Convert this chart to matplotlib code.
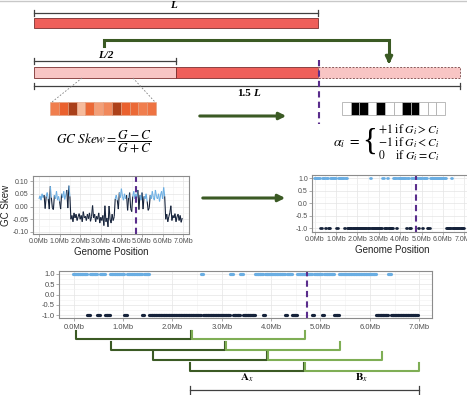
import numpy as np
import matplotlib.pyplot as plt
import matplotlib.transforms as mtransforms
from matplotlib.collections import LineCollection
from matplotlib.colors import LinearSegmentedColormap
from matplotlib.patches import Rectangle

plt.rcParams['mathtext.fontset'] = 'stix'
plt.rcParams['font.family'] = ['Liberation Sans', 'DejaVu Sans']

# GC skew per 50 kb window, 0.00 .. 6.95 Mb
skew = [0.030, 0.042, 0.025, 0.050, 0.035, 0.045, -0.008, 0.040, 0.055, 0.030,
        -0.010, 0.080, 0.035, -0.005, -0.012, 0.045, 0.030, 0.060, 0.025, 0.040,
        0.020, -0.010, 0.050, 0.035, 0.060, 0.028, 0.045, 0.065, -0.006, 0.082,
        0.040, -0.050, -0.035, -0.060, -0.025, -0.045, -0.030, -0.055, -0.040, -0.028,
        -0.050, -0.035, -0.060, -0.020, -0.045, -0.038, -0.055, -0.030, -0.048, -0.025,
        -0.058, -0.040, 0.004, -0.045, -0.030, -0.060, -0.038, -0.050, -0.025, -0.065,
        -0.042, -0.055, -0.035, -0.075, 0.003, -0.060, -0.045, -0.080, 0.002, -0.050,
        -0.065, -0.030, -0.055, -0.040, 0.030, 0.045, 0.025, -0.010, 0.055, 0.035,
        0.070, 0.040, 0.025, 0.050, 0.030, 0.045, -0.015, 0.035, 0.055, -0.008,
        -0.020, 0.040, 0.060, 0.030, 0.050, 0.035, 0.065, -0.012, 0.045, 0.025,
        0.055, -0.010, 0.040, 0.030, 0.050, 0.020, -0.015, -0.005, 0.045, 0.030,
        0.060, 0.035, 0.025, 0.065, 0.040, 0.030, 0.050, 0.020, 0.045, 0.060,
        0.030, 0.075, 0.040, -0.050, -0.030, -0.060, -0.040, -0.025, 0.003, -0.055,
        -0.035, -0.045, -0.028, -0.060, -0.040, -0.030, -0.055, -0.035, -0.062, -0.045]
step_mb = 0.05
pos_mb = np.arange(len(skew)) * step_mb
skew = np.array(skew)
alpha = np.sign(skew)

# window GC content (heat strip) and the matching sign strip
heat = [0.35, 0.62, 0.95, 0.08, 0.55, 0.2, 0.3, 0.93, 0.62, 0.55, 0.35, 0.45]
bits = [0, 1, 1, 0, 1, 0, 0, 1, 1, 0, 0, 0]

win_start = [0.05, 0.75, 1.6, 2.35]   # Mb, sliding windows
win_half = 2.32                        # Mb
origin_mb = 4.72

mb_ticks = np.arange(0, 8)
mb_labels = ['%.1fMb' % v for v in mb_ticks]

BLUE = '#6aaee3'
NAVY = '#15223a'
RED = '#ef5f5a'
PINK = '#f8c5c4'
DGREEN = '#3b5a24'
LGREEN = '#7fae55'
PURPLE = '#5a2d8c'

W, H = 467, 395
fig = plt.figure(figsize=(W / 100, H / 100), dpi=100)
ov = fig.add_axes([0, 0, 1, 1])
ov.set_xlim(0, W)
ov.set_ylim(H, 0)
ov.axis('off')


def panel(x0, y0, x1, y1):
    return fig.add_axes([x0 / W, 1 - y1 / H, (x1 - x0) / W, (y1 - y0) / H])


def gg(ax, yt, ylab, ymin, fs=5):
    for s in ax.spines.values():
        s.set_color('#8c8c8c')
        s.set_linewidth(0.8)
    ax.set_xticks(mb_ticks)
    ax.set_xticklabels(mb_labels)
    ax.set_xticks(mb_ticks[:-1] + 0.5, minor=True)
    ax.set_yticks(yt)
    ax.set_yticklabels(ylab)
    ax.set_yticks(np.array(yt[:-1]) + ymin, minor=True)
    ax.grid(which='major', color='#e4e4e4', lw=0.5)
    ax.grid(which='minor', color='#f2f2f2', lw=0.4)
    ax.set_axisbelow(True)
    ax.tick_params(length=2, width=0.5, color='#8c8c8c', labelsize=fs,
                   labelcolor='#4d4d4d', pad=1)
    ax.tick_params(which='minor', length=0)


def sign_points(ax, lw):
    # one short round-capped stroke per window, so runs merge into a band
    for val, col in ((1, BLUE), (-1, NAVY)):
        p = pos_mb[alpha == val]
        ax.hlines(np.full(len(p), val), p - step_mb / 2, p + step_mb / 2,
                  color=col, lw=lw, capstyle='round')


def bar_bracket(x0, x1, y):
    ov.plot([x0, x1], [y, y], color='#404040', lw=0.9)
    ov.plot([x0, x0], [y - 3, y + 3], color='#404040', lw=0.9)
    ov.plot([x1, x1], [y - 3, y + 3], color='#404040', lw=0.9)


# top gray border
ov.plot([0, W], [0.5, 0.5], color='#c8c8c8', lw=1)

# L bar
bar_bracket(34, 318, 13)
ov.text(173, 6, 'L', fontsize=8, family='Liberation Serif', weight='bold',
        style='italic', ha='center', va='center')
ov.add_patch(Rectangle((34, 18), 284, 10, fc=RED, ec='#7a3030', lw=0.6))

# green arrow over the top
ov.plot([104, 104, 389, 389], [46, 40, 40, 58], color=DGREEN, lw=2.2,
        solid_joinstyle='miter')
ov.annotate('', xy=(389, 67), xytext=(389, 56),
            arrowprops=dict(arrowstyle='-|>', color=DGREEN, lw=2.2,
                            mutation_scale=10))

# L/2 and extended bar
bar_bracket(34, 176, 61)
ov.text(106, 55, 'L/2', fontsize=8, family='Liberation Serif', weight='bold',
        style='italic', ha='center', va='center')
ov.add_patch(Rectangle((34, 67), 142, 11, fc=PINK, ec='#7a3030', lw=0.6))
ov.add_patch(Rectangle((176, 67), 142, 11, fc=RED, ec='#7a3030', lw=0.6))
ov.add_patch(Rectangle((318, 67), 142, 11, fc=PINK, ec='#8a5a5a', lw=0.7,
                       ls=(0, (2, 1.5))))
bar_bracket(34, 460, 86)
ov.text(251, 93, '1.5', fontsize=8, family='Liberation Serif', weight='bold',
        ha='right', va='center')
ov.text(253, 93, 'L', fontsize=8, family='Liberation Serif', weight='bold',
        style='italic', ha='left', va='center')
ov.plot([319, 319], [60, 124], color=PURPLE, lw=1.5, ls=(0, (3, 2)))

# zoom lines to heat strip
ov.plot([82, 52], [78, 102], color='#808080', lw=0.6, ls=(0, (2, 2)))
ov.plot([133, 155], [78, 102], color='#808080', lw=0.6, ls=(0, (2, 2)))

cmap = LinearSegmentedColormap.from_list('gc', ['#f8cdb4', '#f08050', '#e95c28', '#9e3a16'])
cw = (156 - 50) / len(heat)
for i, v in enumerate(heat):
    ov.add_patch(Rectangle((50 + i * cw, 102), cw, 13, fc=cmap(v),
                           ec='#e0a080', lw=0.4))

bw = (445 - 342) / len(bits)
for i, b in enumerate(bits):
    ov.add_patch(Rectangle((342 + i * bw, 102), bw, 13,
                           fc='black' if b else 'white', ec='#b0b0b0', lw=0.6))

# arrow between strips
ov.annotate('', xy=(289, 116), xytext=(197, 116),
            arrowprops=dict(arrowstyle='-|>', color=DGREEN, lw=2.2,
                            mutation_scale=10))

# formulas
ov.text(104, 141, r'$GC\ Skew = \dfrac{G-C}{G+C}$', fontsize=9.5,
        ha='center', va='center')
ov.text(347, 143, r'$\alpha_i\ =$', fontsize=10, ha='center', va='center')
ov.text(377, 142, '{', fontsize=22, family='Liberation Serif', ha='right',
        va='center')
ov.text(378, 130, r'$+1\ \mathrm{if}\ G_i > C_i$', fontsize=8.5, ha='left', va='center')
ov.text(378, 143, r'$-1\ \mathrm{if}\ G_i < C_i$', fontsize=8.5, ha='left', va='center')
ov.text(378, 156, r'$0\ \ \ \ \mathrm{if}\ G_i = C_i$', fontsize=8.5, ha='left', va='center')

# arrow between plots
ov.annotate('', xy=(288, 198), xytext=(200, 198),
            arrowprops=dict(arrowstyle='-|>', color=DGREEN, lw=2.2,
                            mutation_scale=10))

# left: GC skew line
a1 = panel(33, 176, 189, 234)
gg(a1, [-0.10, -0.05, 0.0, 0.05, 0.10], ['-0.10', '-0.05', '0.00', '0.05', '0.10'], 0.025)
pts = np.column_stack([pos_mb, skew])
segs = np.stack([pts[:-1], pts[1:]], axis=1)
cols = [BLUE if (skew[i] > 0 and skew[i + 1] > 0) else NAVY for i in range(len(skew) - 1)]
a1.add_collection(LineCollection(segs, colors=cols, lw=0.8))
a1.axvline(origin_mb, color=PURPLE, lw=1.5, ls=(0, (3, 2)))
a1.set_xlim(-0.29, 7.28)
a1.set_ylim(-0.108, 0.12)
a1.set_xlabel('Genome Position', fontsize=7, labelpad=1, color='#222222')
a1.set_ylabel('GC Skew', fontsize=7, labelpad=1, color='#222222')

# right: sign plot
sgn_y = ['-1.0', '-0.5', '0.0', '0.5', '1.0']
a2 = panel(312, 175, 472, 232)
gg(a2, [-1, -0.5, 0, 0.5, 1], sgn_y, 0.25)
sign_points(a2, 2.0)
a2.axvline(origin_mb, color=PURPLE, lw=1.5, ls=(0, (3, 2)))
a2.set_xlim(-0.12, 7.36)
a2.set_ylim(-1.15, 1.12)
a2.set_xlabel('Genome Position', fontsize=7, labelpad=1, color='#222222')

# bottom: sign plot, larger
a3 = panel(59, 271, 432, 318)
gg(a3, [-1, -0.5, 0, 0.5, 1], sgn_y, 0.25, fs=5.5)
sign_points(a3, 2.3)
a3.axvline(origin_mb, color=PURPLE, lw=1.5, ls=(0, (3, 2)))
a3.set_xlim(-0.30, 7.26)
a3.set_ylim(-1.13, 1.13)
a3.tick_params(axis='x', pad=2)

# window brackets under the bottom plot
bt = mtransforms.blended_transform_factory(a3.transData, ov.transData)
for k, s in enumerate(win_start):
    yb = 339 + k * 10.7
    yt = yb - 8
    m = s + win_half
    e = s + 2 * win_half
    ov.plot([s, s, m, m], [yt, yb, yb, yt], color=DGREEN, lw=1.5, transform=bt)
    ov.plot([m + 0.02, m + 0.02, e, e], [yt, yb, yb, yt], color=LGREEN, lw=1.5,
            transform=bt)
last = win_start[-1]
ov.text(last + win_half / 2, 378, r'$\mathbf{A}_x$', fontsize=8, ha='center',
        va='center', transform=bt)
ov.text(last + 1.5 * win_half, 378, r'$\mathbf{B}_x$', fontsize=8, ha='center',
        va='center', transform=bt)
ov.plot([last, last + 2 * win_half], [390, 390], color='#404040', lw=0.9, transform=bt)
ov.plot([last, last], [386, 394], color='#404040', lw=0.9, transform=bt)
ov.plot([last + 2 * win_half] * 2, [386, 394], color='#404040', lw=0.9, transform=bt)
ov.text(last + win_half, 400, 'L', fontsize=8, family='Liberation Serif',
        weight='bold', style='italic', ha='center', va='center', transform=bt)

fig.savefig('out.png', dpi=100)
